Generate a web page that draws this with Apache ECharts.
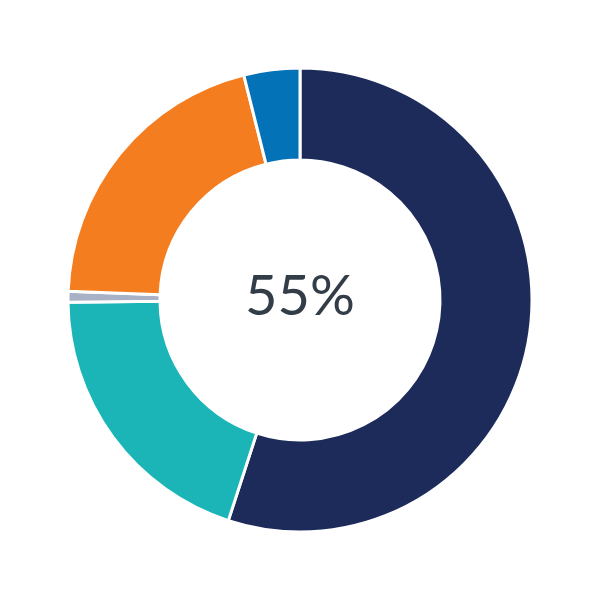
<!DOCTYPE html>
<html>
<head>
<meta charset="utf-8">
<script src="https://cdn.jsdelivr.net/npm/echarts@6/dist/echarts.min.js"></script>
<style>
  html, body { margin: 0; padding: 0; background: #fff; }
  #chart { width: 600px; height: 600px; }
</style>
</head>
<body>
<div id="chart"></div>
<script>
const categories = ['A', 'B', 'C', 'D', 'E']
const values = [55, 19.85, 0.75, 20.5, 3.9]
const colorList = ['#1c2b5a', '#1bb5b8', '#a9b1c6', '#f47d20', '#0472b6']
const centerLabel = '55%'

const chart = echarts.init(document.getElementById('chart'))
chart.setOption({
  animation: false,
  graphic: [
    {
      type: 'text',
      left: 'center',
      top: 269,
      style: {
        text: centerLabel,
        fontFamily: 'Lato',
        fontSize: 56,
        fill: '#333d47'
      }
    }
  ],
  series: [
    {
      type: 'pie',
      center: ['50%', '50%'],
      radius: [140, 232],
      startAngle: 90,
      clockwise: true,
      label: { show: false },
      labelLine: { show: false },
      itemStyle: {
        borderColor: '#fff',
        borderWidth: 3
      },
      data: categories.map((name, i) => ({
        name,
        value: values[i],
        itemStyle: { color: colorList[i] }
      }))
    }
  ]
})
</script>
</body>
</html>
